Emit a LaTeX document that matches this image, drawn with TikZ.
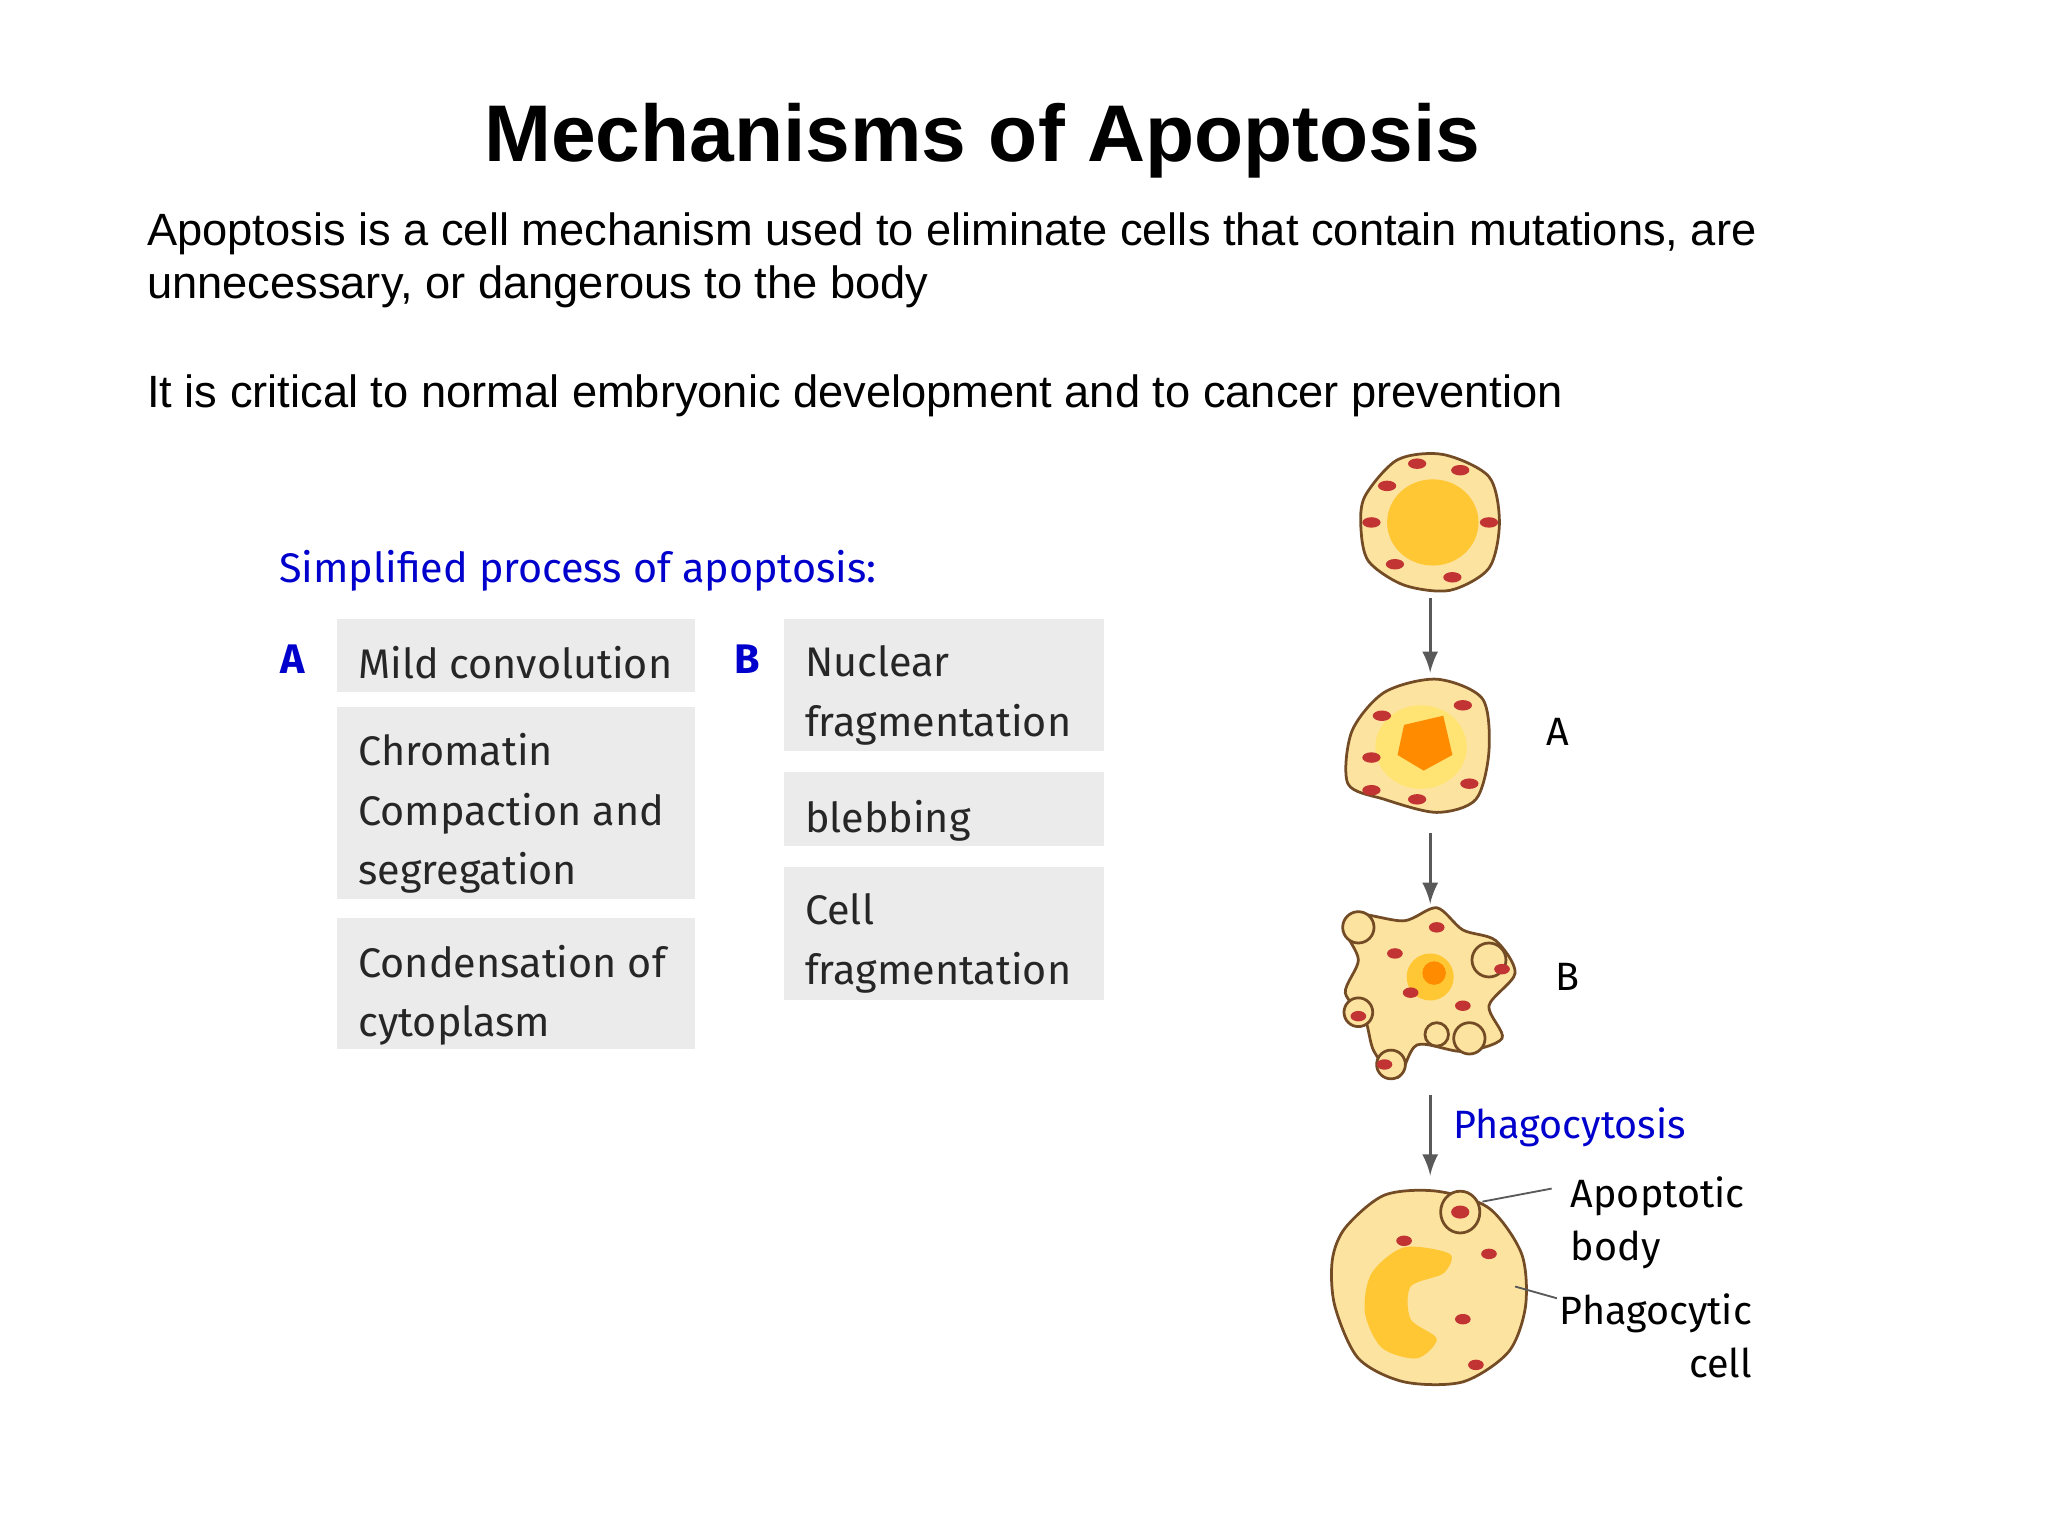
\documentclass[tikz,border=0pt]{standalone}
\usepackage{fontspec}
\setmainfont{Liberation Sans}
\newfontfamily\comic{Fira Sans}
\begin{document}
\begin{tikzpicture}[x=0.01cm,y=-0.01cm,
  gbox/.style={fill=black!8,draw=none},
  btxt/.style={font=\comic\fontsize{9pt}{13pt}\selectfont,anchor=north west,align=left,text=black!85},
  lbl/.style={font=\comic\fontsize{8.6pt}{11.5pt}\selectfont},
  blu/.style={text=blue!80!black},
  cellf/.style={fill=yellow!45!orange!35,draw=brown!60!black,line width=0.6pt},
  nuc/.style={fill=orange!55!yellow!80,draw=none},
  spot/.style={fill=red!70!black!80,draw=none},
  arr/.style={->,>=latex,gray!70!black,line width=0.6pt}]
\useasboundingbox (0,0) rectangle (1568,1176);
\node (title) at (752,108) {\bfseries\fontsize{17.5pt}{20pt}\selectfont Mechanisms of Apoptosis};
\node (p1) [anchor=north west,align=left,font=\fontsize{9.85pt}{11.6pt}\selectfont,inner sep=0] at (112,162) {Apoptosis is a cell mechanism used to eliminate cells that contain mutations, are\\unnecessary, or dangerous to the body};
\node (p2) [anchor=north west,font=\fontsize{9.85pt}{11.6pt}\selectfont,inner sep=0] at (112,286) {It is critical to normal embryonic development and to cancer prevention};
\node (sp) [anchor=west,blu,font=\comic\fontsize{9pt}{12pt}\selectfont,inner sep=0] at (213,437) {Simplified process of apoptosis:};
\node (la) [blu,font=\comic\bfseries\fontsize{9pt}{12pt}\selectfont] at (224,505) {A};
\node (lb) [blu,font=\comic\bfseries\fontsize{9pt}{12pt}\selectfont] at (572,505) {B};
\fill[gbox] (258,474) rectangle (532,530);
\fill[gbox] (258,541) rectangle (532,688);
\fill[gbox] (258,703) rectangle (532,803);
\fill[gbox] (600,474) rectangle (845,575);
\fill[gbox] (600,591) rectangle (845,648);
\fill[gbox] (600,664) rectangle (845,766);
\node (a1) [btxt] at (262,482) {Mild convolution};
\node (a2) [btxt] at (262,549) {Chromatin\\Compaction and\\segregation};
\node (a3) [btxt] at (262,711) {Condensation of\\cytoplasm};
\node (b1) [btxt] at (604,482) {Nuclear\\fragmentation};
\node (b2) [btxt] at (604,600) {blebbing};
\node (b3) [btxt] at (604,672) {Cell\\fragmentation};
% cell 1
\draw[cellf] plot[smooth cycle] coordinates {(1045,380)(1070,352)(1105,348)(1140,365)(1148,400)(1140,435)(1110,452)(1075,448)(1048,430)(1042,405)};
\fill[nuc] (1097,400) ellipse (35 and 33);
\foreach \p in {(1062,372),(1118,360),(1140,400),(1112,442),(1068,432),(1050,400),(1085,355)} \fill[spot] \p ellipse (7 and 4);
\coordinate (c1) at (1095,458);
% cell 2
\draw[cellf] plot[smooth cycle] coordinates {(1035,560)(1060,530)(1100,520)(1135,535)(1140,575)(1130,612)(1100,622)(1060,612)(1032,600)};
\fill[orange!40!yellow!55] (1088,572) ellipse (35 and 32);
\fill[orange!90!yellow] (1075,555) -- (1105,548) -- (1112,578) -- (1090,590) -- (1070,578) -- cycle;
\foreach \p in {(1050,580),(1058,548),(1120,540),(1125,600),(1085,612),(1050,605)} \fill[spot] \p ellipse (7 and 4);
\coordinate (c2t) at (1095,515); \coordinate (c2b) at (1095,638);
% cell 3
\draw[cellf] plot[smooth cycle] coordinates {(1040,700)(1075,705)(1100,695)(1120,712)(1145,720)(1160,745)(1140,770)(1150,795)(1120,805)(1085,800)(1070,825)(1052,805)(1045,780)(1030,760)(1040,735)(1030,712)};
\foreach \p/\r in {(1040,710)/12,(1140,735)/13,(1125,795)/12,(1065,815)/11,(1040,775)/11,(1100,792)/9}
  \draw[cellf] \p circle (\r);
\fill[nuc] (1095,748) circle (18);
\fill[orange!90!yellow] (1098,745) circle (9);
\foreach \p in {(1100,710),(1150,742),(1068,730),(1120,770),(1060,815),(1040,778),(1080,760)} \fill[spot] \p ellipse (6 and 4);
\coordinate (c3t) at (1095,692); \coordinate (c3b) at (1095,838);
% cell 4
\draw[cellf] plot[smooth cycle] coordinates {(1030,940)(1060,915)(1100,912)(1140,925)(1165,960)(1168,1000)(1155,1035)(1120,1058)(1075,1058)(1040,1040)(1022,1000)(1020,965)};
\fill[nuc] plot[smooth cycle] coordinates {(1050,975)(1075,955)(1110,960)(1105,975)(1080,985)(1080,1010)(1100,1025)(1085,1040)(1058,1032)(1045,1005)};
\draw[cellf] (1118,928) ellipse (15 and 16);
\fill[spot] (1118,928) ellipse (7 and 5);
\foreach \p in {(1140,960),(1120,1010),(1130,1045),(1075,950)} \fill[spot] \p ellipse (6 and 4);
\coordinate (c4) at (1095,900);
\coordinate (apb) at (1135,920); \coordinate (php) at (1160,985);
\draw[arr] (c1) -- (c2t);
\draw[arr] (c2b) -- (c3t);
\draw[arr] (c3b) -- (c4);
\node (cA) [lbl] at (1193,560) {A};
\node (cB) [lbl] at (1200,748) {B};
\node (ph) [blu,lbl,anchor=west,inner sep=0] at (1112,863) {Phagocytosis};
\node (ab) [lbl,anchor=north west,align=left,inner sep=0] at (1202,900) {Apoptotic\\body};
\node (pc) [lbl,anchor=north east,align=right,inner sep=0] at (1342,990) {Phagocytic\\cell};
\draw[gray!70!black] (apb) -- (1188,910);
\draw[gray!70!black] (php) -- (1192,994);
\end{tikzpicture}
\end{document}
